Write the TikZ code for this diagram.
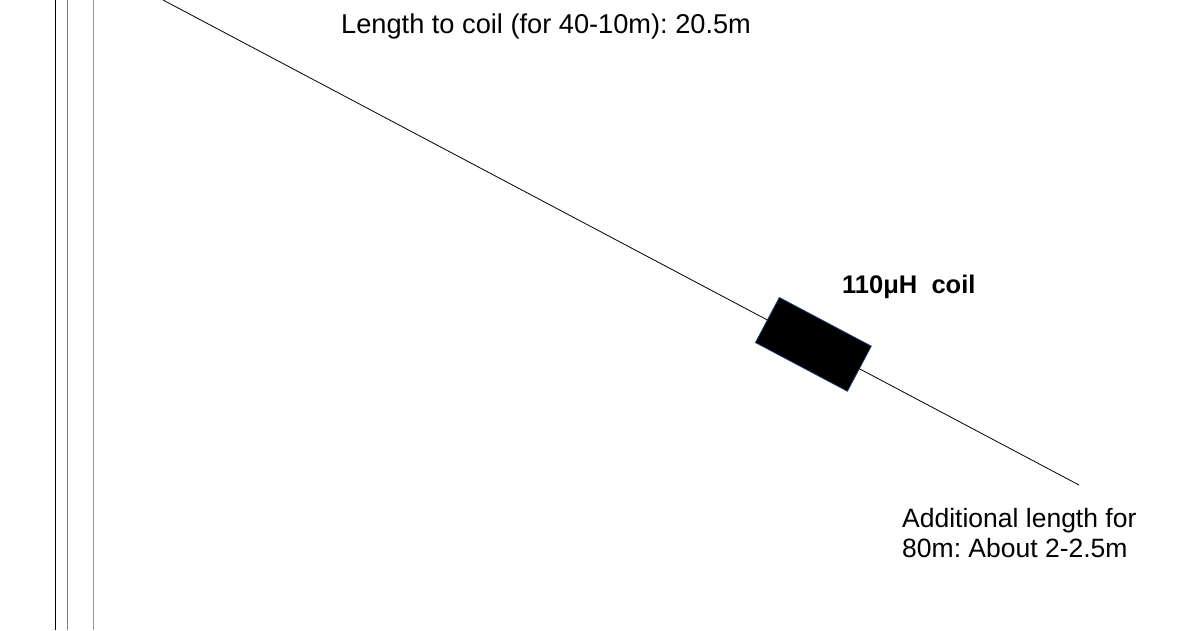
\documentclass[tikz,border=0pt]{standalone}
\usepackage{fontspec}
\setmainfont{Liberation Sans}
\frenchspacing
\definecolor{coilrim}{HTML}{1F3A6E}
\begin{document}
\begin{tikzpicture}[
	x=1pt,y=-1pt,
	font=\fontsize{26.5}{30}\selectfont,
	pole/.style={line width=1pt},
	wire/.style={line width=0.8pt},
	coil/.style={rectangle,fill=black,draw=coilrim,line width=0.8pt,minimum width=104pt,minimum height=51pt,inner sep=0pt},
	lbl/.style={inner sep=0pt,anchor=base west,align=left},
	]
\useasboundingbox (0,0) rectangle (1200,630);
% mast
\draw [pole,black] (55,0) -- (55,630);
\draw [pole,black!50] (67,0) -- (67,630);
\draw [pole,black!40] (93.5,0) -- (93.5,630);
% wire with coil
\coordinate (wtop) at (163,0);
\coordinate (wend) at (1079,485);
\draw [wire] (wtop) -- node [coil,sloped,pos=0.71] (coil) {} (wend);
% labels
\node [lbl,font=\fontsize{27.2}{30}\selectfont] (len) at (341,33) {Length to coil (for 40-10m): 20.5m};
\node [lbl,font=\fontsize{25.5}{30}\selectfont\bfseries] (coiltxt) at (842,293) {110μH\ \ coil};
\node [lbl] (extra) at (902,557) {Additional length for\\80m: About 2-2.5m};
\end{tikzpicture}
\end{document}
